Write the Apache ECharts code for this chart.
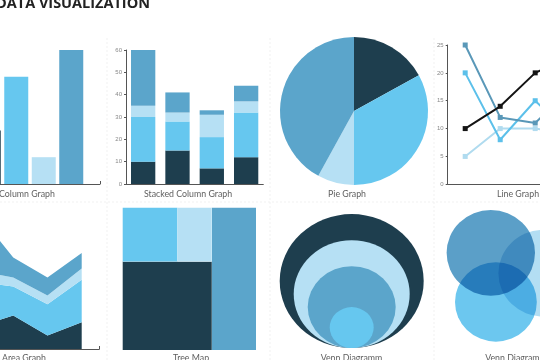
<!DOCTYPE html>
<html><head><meta charset="utf-8">
<script src="https://cdn.jsdelivr.net/npm/echarts@6/dist/echarts.min.js"></script>
<style>html,body{margin:0;padding:0;background:#fff;overflow:hidden}#c{width:540px;height:360px}</style>
</head><body><div id="c"></div>
<script>
// ---------- data ----------
const titleText = 'DATA VISUALIZATION';
const chartLabels = ['Column Graph', 'Stacked Column Graph', 'Pie Graph', 'Line Graph',
                     'Area Graph', 'Tree Map', 'Venn Diagramm', 'Venn Diagramm'];

const columnCategories = ['A', 'B', 'C', 'D'];
const columnValues = [24, 48, 12, 60];

const stackCategories = ['A', 'B', 'C', 'D'];
const stackDark  = [10, 15, 7, 12];
const stackLight = [20, 13, 14, 20];
const stackPale  = [5, 4, 10, 5];
const stackMid   = [25, 9, 2, 7];
const stackTicks = [0, 10, 20, 30, 40, 50, 60];

const pieNames  = ['A', 'B', 'C', 'D'];
const pieValues = [17, 33, 8, 42];

const lineCategories = ['1', '2', '3', '4'];
const lineBlack = [10, 14, 20, 23];
const lineMid   = [25, 12, 11, 17];
const lineLight = [20, 8, 15, 9];
const linePale  = [5, 10, 10, 9];
const lineTicks = [0, 5, 10, 15, 20, 25];

const areaCategories = ['1', '2', '3', '4'];
const areaDark  = [10, 15, 6, 12];
const areaLight = [20, 13, 14, 19];
const areaPale  = [5, 4, 4, 5];
const areaMid   = [25, 9, 8, 7];

const treeNames  = ['light', 'pale', 'dark', 'mid'];
const treeValues = [15.5, 9.8, 41.5, 33.2];

const nestedRadii = [72, 58, 44, 22];

const vennX = [55.9, 103, 50.8];
const vennY = [45.4, 75, 96.1];
const vennR = [40.9, 44.6, 44.2];

// ---------- styles ----------
const C_DARK = '#1e3e4e', C_LIGHT = '#66c7ef', C_PALE = '#b6e0f4', C_MID = '#5ba5cb';
const AX = '#555', LBL = '#888';
const labelFont = '8.8px Lato, "Open Sans", sans-serif';

const chart = echarts.init(document.getElementById('c'), null, {renderer: 'canvas'});

const tickMin = a => a[0], tickMax = a => a[a.length - 1], tickStep = a => a[1] - a[0];

const hiddenCat = (gi, cats, gap) => ({type: 'category', gridIndex: gi, data: cats, show: false, boundaryGap: gap});
const hiddenVal = (gi, min, max) => ({type: 'value', gridIndex: gi, min, max, show: false});
const lineAxis = gi => ({
  type: 'value', gridIndex: gi, min: 0, max: 1, interval: 1,
  axisLine: {show: true, lineStyle: {color: AX, width: 1}},
  axisTick: {show: true, inside: true, length: 3, lineStyle: {color: AX}},
  axisLabel: {show: false}, splitLine: {show: false}
});

function ellipseItem(colors) {
  return function (params, api) {
    const c = api.coord([api.value(0), api.value(1)]);
    const r = api.value(2);
    const s = api.size([r, r]);
    return {type: 'circle', x: c[0], y: c[1], scaleY: s[1] / s[0], shape: {cx: 0, cy: 0, r: s[0]},
      style: {fill: colors[params.dataIndex]}};
  };
}

const labelPos = [[27, 194], [188, 194], [347, 194], [518, 194], [24, 358], [191, 358], [351.5, 358], [516, 358]];
const graphics = [
  {type: 'text', x: -4, y: 4, style: {text: titleText, font: 'bold 14.5px "Open Sans", sans-serif', fill: '#222',
    textAlign: 'left', textVerticalAlign: 'middle', align: 'left', verticalAlign: 'middle'}},
];
chartLabels.forEach((t, i) => graphics.push({type: 'text', x: labelPos[i][0], y: labelPos[i][1],
  style: {text: t, font: labelFont, fill: '#606060', textAlign: 'center', textVerticalAlign: 'middle', align: 'center', verticalAlign: 'middle'}}));
[[107, 38, 107, 360], [270, 38, 270, 360], [434, 38, 434, 360], [0, 202, 540, 202]].forEach(l => graphics.push({
  type: 'line', shape: {x1: l[0], y1: l[1], x2: l[2], y2: l[3]}, silent: true,
  style: {stroke: '#f1f1f1', lineWidth: 1, lineDash: [2, 2]}, z: -1}));

const treeColors = {light: C_LIGHT, pale: C_PALE, dark: C_DARK, mid: C_MID};
const leaf = i => ({name: treeNames[i], value: treeValues[i], itemStyle: {color: treeColors[treeNames[i]]}});
const treeData = [
  {name: 'g1', children: [
    {name: 'g2', children: [leaf(0), leaf(1)]},
    leaf(2)
  ]},
  leaf(3)
];
const lvl = {itemStyle: {borderWidth: 0, gapWidth: 0}};

const G = (left, top, width, height) => ({left, top, width, height, containLabel: false, outerBoundsMode: 'none'});

const option = {
  animation: false,
  graphic: graphics,
  grid: [
    G(-25, 50, 110, 134),          // 0 column bars
    G(-30, 50, 130, 134),          // 1 column base line
    G(126, 50, 137.3, 134),        // 2 stacked
    G(447.7, 45, 140, 139.3),      // 3 line
    G(-21, 215, 102.7, 134),       // 4 area
    G(-30, 215, 129.3, 134),       // 5 area base line
    G(279.7, 214.1, 144, 133.9),   // 6 nested circles
    G(440, 210.2, 100, 135.8)      // 7 venn
  ],
  xAxis: [
    hiddenCat(0, columnCategories, true),
    lineAxis(1),
    {type: 'category', gridIndex: 2, data: stackCategories,
      axisLine: {lineStyle: {color: AX}}, axisTick: {inside: true, length: 3, lineStyle: {color: AX}},
      axisLabel: {show: false}},
    {type: 'category', gridIndex: 3, data: lineCategories,
      axisLine: {lineStyle: {color: AX}}, axisTick: {inside: true, length: 3, lineStyle: {color: AX}},
      axisLabel: {show: false}},
    hiddenCat(4, areaCategories, false),
    lineAxis(5),
    hiddenVal(6, -72, 72),
    hiddenVal(7, 0, 100)
  ],
  yAxis: [
    hiddenVal(0, 0, 60),
    hiddenVal(1, 0, 1),
    {type: 'value', gridIndex: 2, min: tickMin(stackTicks), max: tickMax(stackTicks), interval: tickStep(stackTicks),
      axisLine: {show: true, lineStyle: {color: AX}}, axisTick: {show: true, length: 2, lineStyle: {color: AX}},
      axisLabel: {fontSize: 6, color: LBL, margin: 4}, splitLine: {show: false}},
    {type: 'value', gridIndex: 3, min: tickMin(lineTicks), max: tickMax(lineTicks), interval: tickStep(lineTicks),
      axisLine: {show: true, lineStyle: {color: AX}}, axisTick: {show: true, length: 2, lineStyle: {color: AX}},
      axisLabel: {fontSize: 6, color: LBL, margin: 4}, splitLine: {show: false}},
    hiddenVal(4, 0, 60),
    hiddenVal(5, 0, 1),
    hiddenVal(6, 0, 144),
    hiddenVal(7, 0, 140)
  ],
  series: [
    {type: 'bar', xAxisIndex: 0, yAxisIndex: 0, barWidth: 24, data: columnValues,
      itemStyle: {color: p => [C_DARK, C_LIGHT, C_PALE, C_MID][p.dataIndex]}},
    ...[[stackDark, C_DARK], [stackLight, C_LIGHT], [stackPale, C_PALE], [stackMid, C_MID]].map(([d, c]) => ({
      type: 'bar', xAxisIndex: 2, yAxisIndex: 2, stack: 'st', barWidth: 24.3, data: d, itemStyle: {color: c}})),
    {type: 'pie', center: [354, 111], radius: 74, startAngle: 90, clockwise: true, silent: true,
      label: {show: false}, labelLine: {show: false},
      data: pieValues.map((v, i) => ({name: pieNames[i], value: v, itemStyle: {color: [C_DARK, C_LIGHT, C_PALE, C_MID][i]}}))},
    ...[[linePale, '#b0dbef', 2], [lineLight, '#5cc0ea', 2], [lineMid, '#5a98b8', 2], [lineBlack, '#151515', 2]].map(([d, c, w]) => ({
      type: 'line', xAxisIndex: 3, yAxisIndex: 3, data: d, symbol: 'rect', symbolSize: 5,
      lineStyle: {color: c, width: w}, itemStyle: {color: c}})),
    ...[[areaDark, C_DARK], [areaLight, C_LIGHT], [areaPale, C_PALE], [areaMid, C_MID]].map(([d, c]) => ({
      type: 'line', xAxisIndex: 4, yAxisIndex: 4, stack: 'ar', data: d, symbol: 'none',
      lineStyle: {width: 0}, areaStyle: {color: c, opacity: 1}, itemStyle: {color: c}})),
    {type: 'treemap', left: 122.7, top: 207.7, width: 133.3, height: 142.3, roam: false, nodeClick: false,
      sort: false, squareRatio: 1.555, breadcrumb: {show: false}, label: {show: false}, upperLabel: {show: false},
      itemStyle: {borderWidth: 0, gapWidth: 0}, levels: [lvl, lvl, lvl, lvl], data: treeData},
    {type: 'custom', xAxisIndex: 6, yAxisIndex: 6, clip: false,
      renderItem: ellipseItem([C_DARK, C_PALE, C_MID, C_LIGHT]),
      data: nestedRadii.map(r => [0, r, r])},
    {type: 'custom', xAxisIndex: 7, yAxisIndex: 7, clip: false, blendMode: 'multiply',
      renderItem: ellipseItem(['#6cc7ef', '#b3def3', '#5b9fc8']),
      data: vennX.map((x, i) => [x, vennY[i], vennR[i]])}
  ]
};
chart.setOption(option);
</script>
</body></html>
